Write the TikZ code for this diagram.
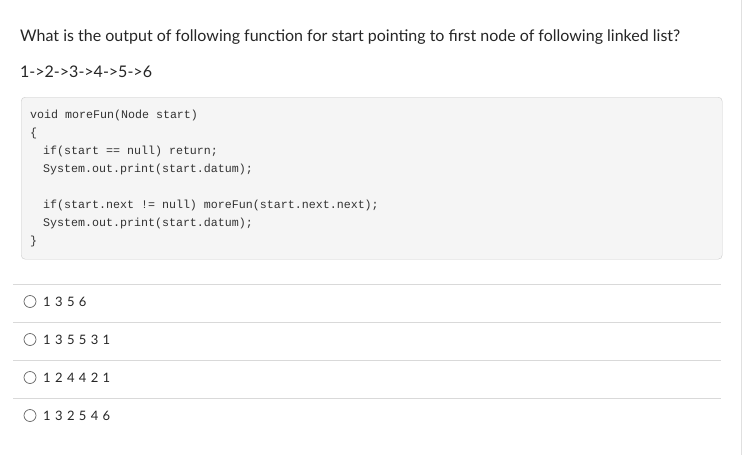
\documentclass[tikz,border=0pt]{standalone}
\usepackage{fontspec}
\setmainfont{Lato}
\setmonofont{Liberation Mono}
\begin{document}
\begin{tikzpicture}[x=1pt,y=-1pt,
  txt/.style={anchor=base west,inner sep=0pt,font=\fontsize{16}{18}\selectfont,text=black!85},
  code/.style={anchor=base west,inner sep=0pt,font=\ttfamily\fontsize{11.65}{13}\selectfont,text=black!80},
  opt/.style={anchor=base west,inner sep=0pt,font=\fontsize{13}{15}\selectfont,text=black!85},
  radio/.style={circle,draw=black!60,minimum size=12pt,inner sep=0pt,line width=0.7pt},
  sep/.style={draw=black!15,line width=1pt}]
\useasboundingbox (0,0) rectangle (744,455);
\fill[white] (0,0) rectangle (744,455);
\draw[draw=black!12,line width=1pt] (741,0) -- (741,455);
\node[txt] (q) at (20,41) {What is the output of following function for start pointing to first node of following linked list?};
\node[txt] (l) at (20,77) {1->2->3->4->5->6};
\node[draw=black!20,fill=black!4,rounded corners=4pt,minimum width=701pt,minimum height=162pt,anchor=north west,inner sep=0pt] (box) at (21,97) {};
\node[code] (c1) at (30,118) {void moreFun(Node start)};
\node[code] (c2) at (30,136) {\{};
\node[code] (c3) at (43,154) {if(start == null) return;};
\node[code] (c4) at (43,172) {System.out.print(start.datum);};
\node[code] (c5) at (43,208) {if(start.next != null) moreFun(start.next.next);};
\node[code] (c6) at (43,226) {System.out.print(start.datum);};
\node[code] (c7) at (30,244) {\}};
\foreach \y in {284,322,360,398} \draw[sep] (13,\y) -- (721,\y);
\foreach \t [count=\i] in {1 3 5 6,1 3 5 5 3 1,1 2 4 4 2 1,1 3 2 5 4 6} {
  \node[radio] (r\i) at (30,{301.5+38*(\i-1)}) {};
  \node[opt] (o\i) at (43,{306+38*(\i-1)}) {\addfontfeatures{LetterSpace=8}\t};
}
\end{tikzpicture}
\end{document}
